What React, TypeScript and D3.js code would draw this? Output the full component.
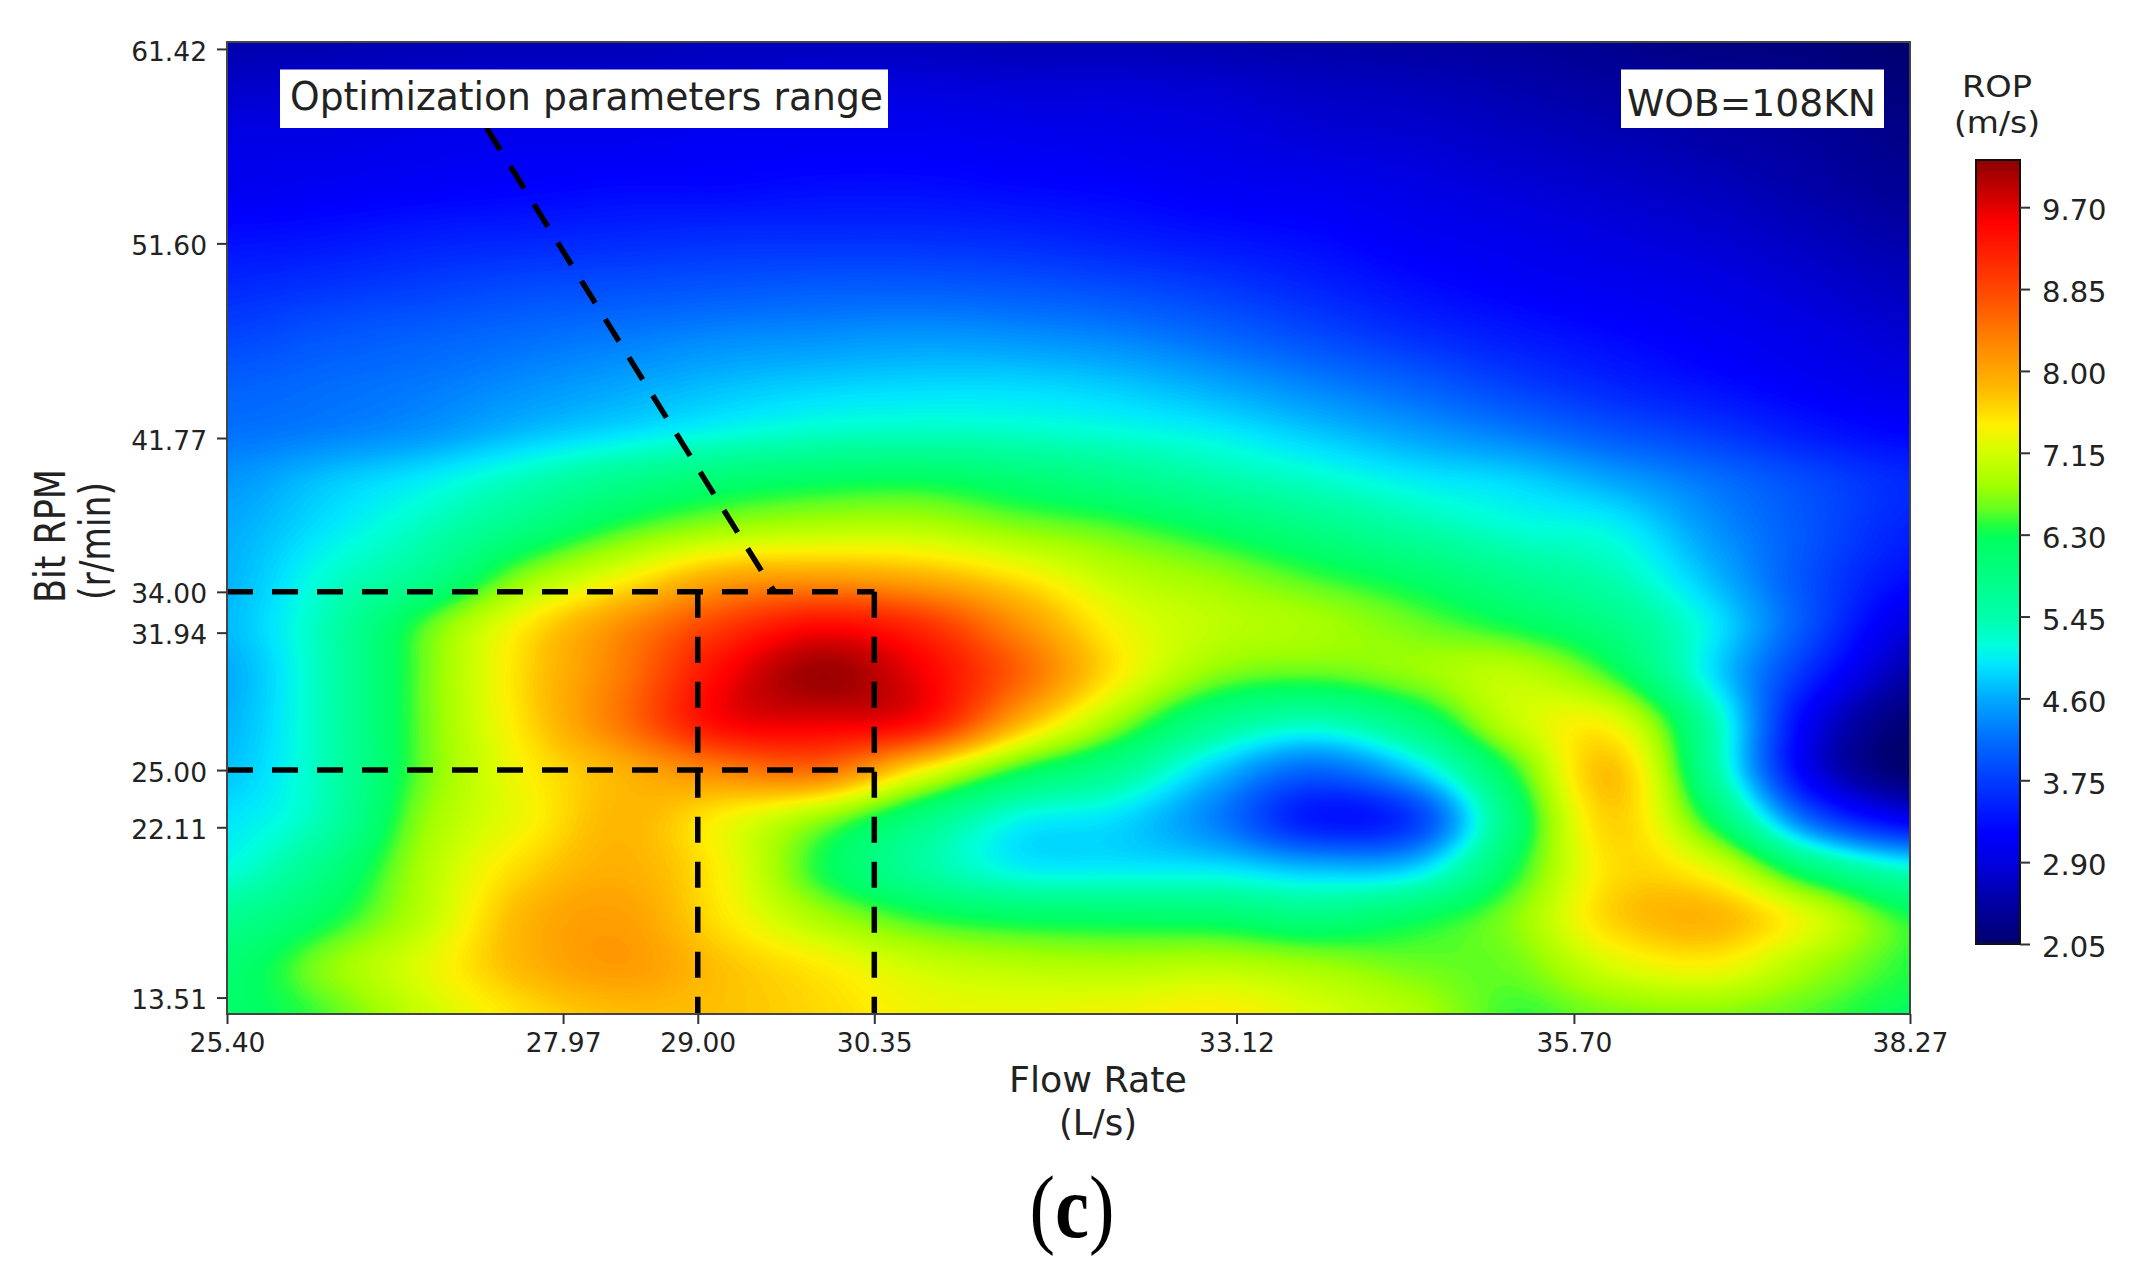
import React, { useEffect, useRef } from "react";
import * as d3 from "d3";

const flowTicks = [25.4, 27.97, 29.0, 30.35, 33.12, 35.7, 38.27];
const rpmTicks = [61.42, 51.6, 41.77, 34.0, 31.94, 25.0, 22.11, 13.51];
const ropTicks = [2.05, 2.9, 3.75, 4.6, 5.45, 6.3, 7.15, 8.0, 8.85, 9.7];
const flowDomain = [25.4, 38.27];
const rpmDomain = [12.68, 61.77];
const ropDomain = [2.05, 10.19];

const colorValues = [2.05, 2.5, 2.9, 3.2, 3.75, 4.18, 4.6, 4.95, 5.15, 5.45, 6.25, 6.4, 6.56, 6.8, 7.15, 7.44, 7.78, 8.23, 8.85, 9.54, 10.19];
const colorHex = ["#00006e", "#0000a8", "#0000e0", "#0000ff", "#003cff", "#006eff", "#00aaff", "#00e6ff", "#00ffdc", "#00ffaa", "#00ff60", "#20ff40", "#64ff20", "#a0ff00", "#d2ff00", "#fff000", "#ffbe00", "#ff8c00", "#ff4600", "#ff0000", "#8c0000"];

// ROP: rows from the top (high RPM) to the bottom, columns left to right
const ropGrid = [
  [2.55, 2.55, 2.6, 2.6, 2.6, 2.65, 2.65, 2.65, 2.6, 2.6, 2.55, 2.5, 2.45, 2.4, 2.3, 2.2, 2.15, 2.05],
  [2.75, 2.8, 2.8, 2.85, 2.85, 2.85, 2.9, 2.9, 2.85, 2.85, 2.8, 2.7, 2.65, 2.55, 2.45, 2.4, 2.3, 2.15],
  [2.95, 2.95, 3.0, 3.05, 3.05, 3.1, 3.1, 3.1, 3.05, 3.0, 2.95, 2.85, 2.8, 2.7, 2.6, 2.5, 2.4, 2.25],
  [3.05, 3.1, 3.15, 3.2, 3.25, 3.25, 3.3, 3.3, 3.25, 3.2, 3.1, 3.05, 2.95, 2.85, 2.75, 2.65, 2.5, 2.35],
  [3.3, 3.35, 3.45, 3.5, 3.55, 3.6, 3.6, 3.6, 3.55, 3.45, 3.35, 3.25, 3.1, 3.0, 2.9, 2.8, 2.65, 2.5],
  [3.55, 3.65, 3.75, 3.85, 3.9, 3.95, 4.0, 4.0, 3.95, 3.85, 3.7, 3.5, 3.3, 3.15, 3.05, 2.95, 2.8, 2.65],
  [3.8, 3.95, 4.05, 4.15, 4.25, 4.35, 4.4, 4.45, 4.4, 4.3, 4.1, 3.85, 3.6, 3.4, 3.25, 3.1, 2.95, 2.8],
  [4.05, 4.15, 4.25, 4.4, 4.55, 4.7, 4.8, 4.85, 4.85, 4.75, 4.55, 4.3, 4.05, 3.75, 3.5, 3.3, 3.1, 2.95],
  [4.2, 4.3, 4.45, 4.7, 4.9, 5.1, 5.25, 5.3, 5.25, 5.15, 5.0, 4.75, 4.5, 4.25, 3.95, 3.7, 3.4, 3.2],
  [4.45, 4.75, 5.0, 5.35, 5.75, 6.05, 6.2, 6.25, 6.05, 5.8, 5.5, 5.25, 5.0, 4.85, 4.55, 4.2, 3.85, 3.55],
  [4.6, 4.95, 5.35, 5.9, 6.45, 6.8, 6.95, 6.95, 6.7, 6.5, 6.2, 5.85, 5.5, 5.2, 5.05, 4.45, 3.95, 3.5],
  [4.65, 5.2, 5.75, 6.7, 7.35, 7.95, 8.05, 7.9, 7.5, 7.0, 6.75, 6.45, 6.15, 5.75, 5.4, 4.7, 3.9, 3.3],
  [4.7, 5.4, 6.5, 7.45, 8.2, 8.95, 9.45, 9.1, 8.2, 7.35, 7.0, 6.85, 6.6, 6.3, 5.85, 5.0, 3.9, 2.9],
  [4.6, 5.4, 6.6, 7.6, 8.4, 9.5, 10.1, 9.6, 8.6, 7.45, 6.7, 6.55, 6.75, 7.0, 6.4, 4.95, 3.55, 2.5],
  [4.65, 5.4, 6.6, 7.55, 8.45, 9.5, 9.65, 9.4, 7.9, 6.75, 5.75, 5.35, 5.95, 7.05, 7.3, 5.45, 3.05, 2.1],
  [4.75, 5.4, 6.6, 7.4, 7.9, 8.3, 8.45, 7.4, 6.35, 5.7, 4.75, 4.1, 4.8, 6.4, 7.75, 5.6, 3.0, 2.05],
  [4.95, 5.45, 6.75, 7.35, 7.85, 7.4, 6.75, 5.9, 5.1, 4.9, 4.3, 3.4, 3.75, 6.0, 7.65, 6.25, 4.1, 3.1],
  [5.15, 5.85, 6.9, 7.6, 7.9, 7.4, 6.35, 5.6, 5.05, 5.0, 4.95, 4.7, 4.85, 6.3, 7.55, 7.25, 5.95, 5.2],
  [5.7, 6.25, 7.0, 7.85, 8.05, 7.5, 6.85, 6.4, 6.2, 6.15, 6.1, 5.9, 6.2, 6.7, 7.65, 7.85, 7.2, 6.35],
  [6.05, 6.7, 7.25, 7.85, 8.1, 7.75, 7.45, 7.1, 6.95, 6.9, 6.95, 6.8, 6.6, 6.6, 7.2, 7.4, 6.85, 6.4],
  [6.15, 6.5, 7.1, 7.55, 7.8, 7.75, 7.6, 7.35, 7.3, 7.35, 7.45, 7.2, 6.9, 6.45, 6.65, 6.7, 6.5, 6.25],
];

const rangeFlow = [29.0, 30.35];
const rangeRpm = [25.0, 34.0];
const leaderStart = [27.385, 57.43];
const leaderEnd = [29.587, 34.0];

const FONT = "'DejaVu Sans', sans-serif";
const INK = "#222";
const P = { l: 227, r: 1910, t: 42, b: 1014 };
const CB = { l: 1976, r: 2020, t: 160, b: 944 };

function cr(a: number, b: number, c: number, d: number, t: number) {
  return 0.5 * (2 * b + (c - a) * t + (2 * a - 5 * b + 4 * c - d) * t * t + (3 * b - a - 3 * c + d) * t * t * t);
}
function sampleGrid(u: number, v: number) {
  const R = ropGrid.length, C = ropGrid[0].length;
  const fx = u * (C - 1), fy = v * (R - 1);
  const ix = Math.min(C - 2, Math.floor(fx)), iy = Math.min(R - 2, Math.floor(fy));
  const tx = fx - ix, ty = fy - iy;
  const row = (j: number) => {
    const r = ropGrid[Math.max(0, Math.min(R - 1, j))];
    const g = (i: number) => r[Math.max(0, Math.min(C - 1, i))];
    return cr(g(ix - 1), g(ix), g(ix + 1), g(ix + 2), tx);
  };
  return cr(row(iy - 1), row(iy), row(iy + 1), row(iy + 2), ty);
}

export default function App() {
  const ref = useRef<SVGSVGElement | null>(null);
  useEffect(() => {
    const svg = d3.select(ref.current);
    svg.selectAll("*").remove();
    const x = d3.scaleLinear().domain(flowDomain).range([P.l, P.r]);
    const y = d3.scaleLinear().domain(rpmDomain).range([P.b, P.t]);
    const color = d3.scaleLinear<string>().domain(colorValues).range(colorHex).interpolate(d3.interpolateRgb).clamp(true);
    const cbY = d3.scaleLinear().domain(ropDomain).range([CB.b, CB.t]);

    const defs = svg.append("defs");
    defs.append("clipPath").attr("id", "plotClip").append("rect")
      .attr("x", P.l).attr("y", P.t).attr("width", P.r - P.l).attr("height", P.b - P.t);
    const grad = defs.append("linearGradient").attr("id", "cbGrad")
      .attr("x1", 0).attr("x2", 0).attr("y1", 1).attr("y2", 0);
    colorValues.forEach((v, i) => {
      grad.append("stop")
        .attr("offset", (v - ropDomain[0]) / (ropDomain[1] - ropDomain[0]))
        .attr("stop-color", colorHex[i]);
    });

    // upsample the read grid and draw it as nested filled contours
    const W = 337, H = 195;
    const vals = new Float64Array(W * H);
    for (let j = 0; j < H; j++) for (let i = 0; i < W; i++) vals[j * W + i] = sampleGrid(i / (W - 1), j / (H - 1));
    const thresholds = d3.range(ropDomain[0], ropDomain[1], 0.035);
    const contours = d3.contours().size([W, H]).smooth(true).thresholds(thresholds)(Array.from(vals));
    const proj = d3.geoTransform({
      point(px: number, py: number) {
        (this as any).stream.point(P.l + ((px - 0.5) / (W - 1)) * (P.r - P.l), P.t + ((py - 0.5) / (H - 1)) * (P.b - P.t));
      },
    });
    const path = d3.geoPath(proj);
    const plot = svg.append("g").attr("clip-path", "url(#plotClip)");
    plot.append("rect").attr("x", P.l).attr("y", P.t).attr("width", P.r - P.l).attr("height", P.b - P.t).attr("fill", color(ropDomain[0]));
    plot.selectAll("path").data(contours).join("path")
      .attr("d", (d: any) => path(d) as string)
      .attr("fill", (d: any) => color(d.value + 0.0175));

    // dashed guides
    const guides = svg.append("g").attr("fill", "none").attr("stroke", "#000").attr("stroke-width", 5.5).attr("stroke-dasharray", "26 19");
    const pathOf = (pts: number[][]) => d3.line()(pts.map((p) => [x(p[0]), y(p[1])] as [number, number]));
    rangeRpm.forEach((r) => guides.append("path").attr("d", pathOf([[flowDomain[0], r], [rangeFlow[1], r]])));
    rangeFlow.forEach((f) => guides.append("path").attr("d", pathOf([[f, rangeRpm[1]], [f, rpmDomain[0]]])));
    guides.append("path").attr("d", pathOf([leaderStart, leaderEnd]));

    // frame + axes
    svg.append("rect").attr("x", P.l).attr("y", P.t).attr("width", P.r - P.l).attr("height", P.b - P.t)
      .attr("fill", "none").attr("stroke", "#444").attr("stroke-width", 2);

    const styleAxis = (g: any, size: number, dy: string | null) => {
      g.select(".domain").remove();
      g.selectAll("line").attr("stroke", "#333").attr("stroke-width", 2);
      g.selectAll("text").attr("font-family", FONT).attr("font-size", size).attr("fill", INK);
      if (dy) g.selectAll("text").attr("dy", dy);
    };
    svg.append("g").attr("transform", `translate(0,${P.b})`)
      .call(d3.axisBottom(x).tickValues(flowTicks).tickFormat(d3.format(".2f") as any).tickSize(10).tickPadding(9) as any)
      .call((g: any) => styleAxis(g, 26.5, null));
    svg.append("g").attr("transform", `translate(${P.l},0)`)
      .call(d3.axisLeft(y).tickValues(rpmTicks).tickFormat(d3.format(".2f") as any).tickSize(10).tickPadding(10) as any)
      .call((g: any) => styleAxis(g, 26.5, "0.42em"));

    // colorbar
    svg.append("rect").attr("x", CB.l).attr("y", CB.t).attr("width", CB.r - CB.l).attr("height", CB.b - CB.t)
      .attr("fill", "url(#cbGrad)").attr("stroke", "#111").attr("stroke-width", 2);
    svg.append("g").attr("transform", `translate(${CB.r},0)`)
      .call(d3.axisRight(cbY).tickValues(ropTicks).tickFormat(d3.format(".2f") as any).tickSize(10).tickPadding(12) as any)
      .call((g: any) => styleAxis(g, 29, "0.44em"));

    const label = (txt: string, tx: number, ty: number, fs: number, len: number, rot = 0, anchor = "middle") => {
      svg.append("text").text(txt)
        .attr("transform", `translate(${tx},${ty}) rotate(${rot})`)
        .attr("text-anchor", anchor).attr("font-family", FONT).attr("font-size", fs).attr("fill", INK)
        .attr("textLength", len).attr("lengthAdjust", "spacingAndGlyphs");
    };
    label("Flow Rate", 1098, 1092, 36, 178);
    label("(L/s)", 1098, 1135, 36, 78);
    label("Bit RPM", 65, 536, 42, 134, -90);
    label("(r/min)", 110, 541, 42, 118, -90);
    label("ROP", 1997, 97, 30, 70);
    label("(m/s)", 1997, 133, 30, 86);

    // annotation boxes
    svg.append("rect").attr("x", 280).attr("y", 69.5).attr("width", 608).attr("height", 58.5).attr("fill", "#fff");
    label("Optimization parameters range", 290, 110, 39, 593, 0, "start");
    svg.append("rect").attr("x", 1621).attr("y", 69.5).attr("width", 263).attr("height", 58.5).attr("fill", "#fff");
    label("WOB=108KN", 1627, 116, 37, 249, 0, "start");

    // panel tag
    const tag = svg.append("text").attr("x", 1072).attr("y", 1237).attr("text-anchor", "middle")
      .attr("font-family", "'Liberation Serif', serif").attr("font-size", 88).attr("fill", "#000")
      .attr("textLength", 85).attr("lengthAdjust", "spacingAndGlyphs");
    tag.append("tspan").text("(");
    tag.append("tspan").attr("font-weight", "bold").text("c");
    tag.append("tspan").text(")");
  }, []);
  return <svg ref={ref} width={2149} height={1285} style={{ position: "absolute", left: 0, top: 0, display: "block", background: "#fff" }} />;
}
